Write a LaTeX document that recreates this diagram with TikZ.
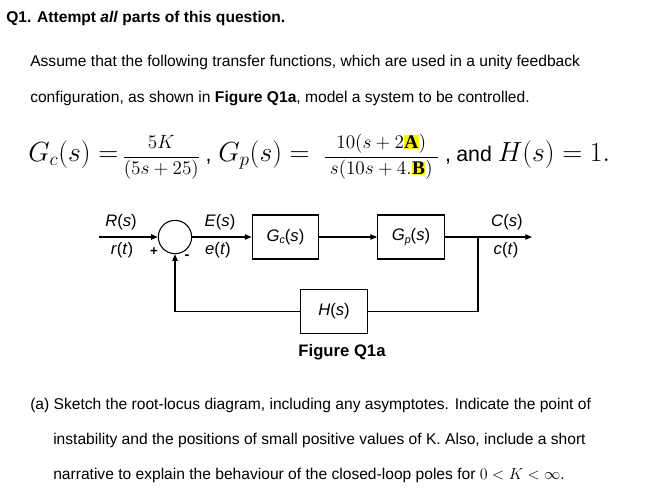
\documentclass[tikz,border=0pt]{standalone}
\usepackage{fontspec}
\setmainfont{Liberation Sans}
\newfontfamily\serifb{Liberation Serif}
\usepackage{amsmath}
\usetikzlibrary{arrows.meta}
\newcommand{\hlb}[1]{{\setlength\fboxsep{0.4pt}\colorbox{yellow}{\serifb\bfseries #1}}}
\newcommand{\isub}[2]{\textit{#1}\raisebox{-2pt}{\fontsize{8}{8}\selectfont\textit{#2}}}
\newcommand{\bigmath}[1]{{\fontsize{20}{22}\selectfont$#1$}}
\newcommand{\smf}[2]{{\fontsize{14.5}{16}\selectfont$\displaystyle\frac{#1}{#2}$}}
\begin{document}
\begin{tikzpicture}[x=0.75pt,y=-0.75pt,
  txt/.style={anchor=west,inner sep=0pt,font=\fontsize{11.7}{13}\selectfont},
  blk/.style={draw,thick,minimum width=50pt,minimum height=33pt,inner sep=0pt,font=\fontsize{12.5}{13}\selectfont},
  lab/.style={inner sep=0pt,font=\fontsize{12.5}{13}\selectfont},
  sig/.style={thick,-{Triangle[length=5pt,width=4pt]}},
  ln/.style={thick}]
\useasboundingbox (0,0) rectangle (647,494);
\node[txt,font=\bfseries\fontsize{11.7}{13}\selectfont] (title) at (6,18) {Q1. Attempt \textit{all} parts of this question.};
\node[txt] (p1) at (30,62) {Assume that the following transfer functions, which are used in a unity feedback};
\node[txt] (p2) at (30,98) {configuration, as shown in \textbf{Figure Q1a}, model a system to be controlled.};
\node[txt] (eq) at (28,157) {\bigmath{G_c(s)=}\hspace{3pt}\smf{5K}{(5s+25)}\hspace{4pt}{\fontsize{16}{17}\selectfont,\hspace{5pt}}\bigmath{G_p(s)=}\hspace{10pt}\smf{\;10(s+2\text{\hlb{A}})\;}{\;s(10s+4.\text{\hlb{B}})\;}\hspace{4pt}{\fontsize{16}{17}\selectfont,\hspace{4pt}and }\bigmath{H(s)=1.}};
\node[draw,thick,circle,minimum size=25pt,inner sep=0pt] (sum) at (175,237) {};
\node[blk] (gc) at (285.5,237) {\isub{G}{c}(\textit{s})};
\node[blk] (gp) at (411,237) {\isub{G}{p}(\textit{s})};
\node[blk] (h) at (334,311.5) {\textit{H}(\textit{s})};
\coordinate (in) at (99,237);
\coordinate (out) at (532,237);
\coordinate (br) at (478,237);
\draw[sig] (in) -- (sum);
\draw[sig] (sum) -- (gc);
\draw[sig] (gc) -- (gp);
\draw[sig] (gp) -- (out);
\draw[ln] (br) |- (h);
\draw[sig] (h) -| (sum);
\node[lab] (rs) at (121,222) {\textit{R}(\textit{s})};
\node[lab] (rt) at (122,250) {\textit{r}(\textit{t})};
\node[lab,font=\bfseries\fontsize{10}{10}\selectfont] (plus) at (154,252) {+};
\node[lab,font=\bfseries\fontsize{11}{10}\selectfont] (minus) at (187,257) {-};
\node[lab] (es) at (220,222) {\textit{E}(\textit{s})};
\node[lab] (et) at (218,250) {\textit{e}(\textit{t})};
\node[lab] (cs) at (507,222) {\textit{C}(\textit{s})};
\node[lab] (ct) at (506,250) {\textit{c}(\textit{t})};
\node[lab,font=\bfseries\fontsize{12.5}{13}\selectfont] (fig) at (342,352) {Figure Q1a};
\node[txt] (a1) at (30,405) {(a) Sketch the root-locus diagram, including any asymptotes. Indicate the point of};
\node[txt] (a2) at (53,440) {instability and the positions of small positive values of K. Also, include a short};
\node[txt] (a3) at (53,475) {narrative to explain the behaviour of the closed-loop poles for $0<K<\infty$.};
\end{tikzpicture}
\end{document}
